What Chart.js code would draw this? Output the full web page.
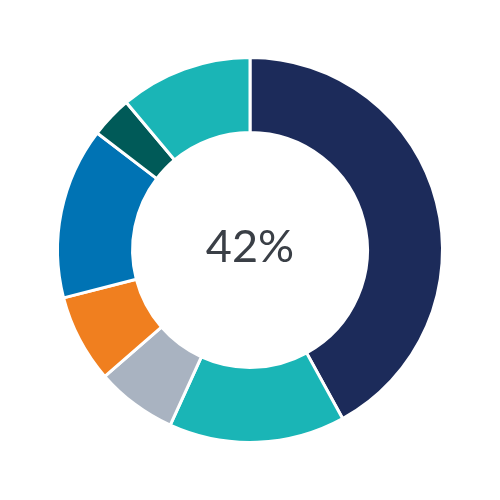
<!DOCTYPE html>
<html lang="en">
<head>
    <meta charset="UTF-8">
    <title>Doughnut 42%</title>
    <style>
        body {
            margin: 0;
            background: #ffffff;
        }
        #wrap {
            width: 500px;
            height: 500px;
        }
    </style>
    <script src="https://cdn.jsdelivr.net/npm/chart.js"></script>
</head>
<body>
    <div id="wrap"><canvas id="donut"></canvas></div>
    <script>
        const labels = ['Segment A', 'Segment B', 'Segment C', 'Segment D', 'Segment E', 'Segment F', 'Segment G'];
        const values = [42, 14.8, 6.8, 7.4, 14.4, 3.5, 11.1];
        const colors = ['#1c2b5a', '#1ab5b6', '#a9b3c1', '#f07f1f', '#0073b4', '#005a58', '#1ab5b6'];
        const centerLabel = '42%';

        const centerText = {
            id: 'centerText',
            afterDraw(chart) {
                const { ctx, chartArea } = chart;
                const cx = (chartArea.left + chartArea.right) / 2;
                const cy = (chartArea.top + chartArea.bottom) / 2;
                ctx.save();
                ctx.font = '400 45px Lato, "Open Sans", sans-serif';
                ctx.fillStyle = '#3a3f46';
                ctx.textAlign = 'center';
                ctx.textBaseline = 'middle';
                ctx.fillText(centerLabel, cx, cy - 3);
                ctx.restore();
            }
        };

        new Chart(document.getElementById('donut'), {
            type: 'doughnut',
            data: {
                labels: labels,
                datasets: [{
                    data: values,
                    backgroundColor: colors,
                    borderColor: '#ffffff',
                    borderWidth: 3
                }]
            },
            options: {
                responsive: true,
                maintainAspectRatio: false,
                animation: false,
                cutout: '61%',
                layout: { padding: 56 },
                plugins: {
                    legend: { display: false },
                    tooltip: { enabled: false }
                }
            },
            plugins: [centerText]
        });
    </script>
</body>
</html>
